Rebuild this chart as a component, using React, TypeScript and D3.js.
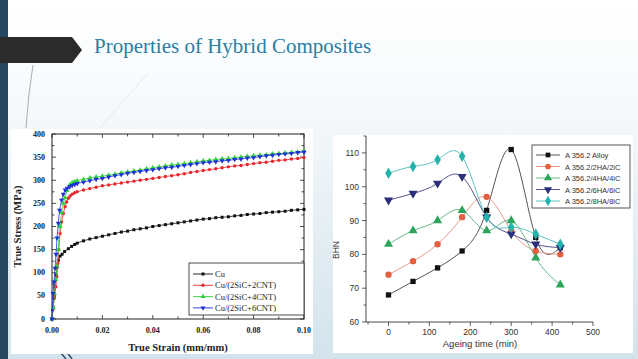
import React from 'react'
import {
    scaleLinear, line, curveLinear, curveNatural, symbol,
    symbolSquare, symbolCircle, symbolTriangle, symbolDiamond, range,
} from 'd3'

// left chart: true stress (MPa) vs true strain (mm/mm)
const cuData = [
    [0, 0], [0.0003, 20], [0.0008, 45], [0.0012, 70], [0.0016, 95], [0.002, 112], [0.0025, 127],
    [0.0032, 136], [0.004, 140], [0.005, 146], [0.0065, 152], [0.0078, 157], [0.009, 161], [0.01, 164],
    [0.0125, 169], [0.015, 173], [0.0175, 176], [0.02, 179], [0.0225, 182], [0.025, 185], [0.0275, 188],
    [0.03, 190], [0.0325, 193], [0.035, 195], [0.0375, 197], [0.04, 200], [0.0425, 202], [0.045, 204],
    [0.0475, 206], [0.05, 208], [0.0525, 210], [0.055, 212], [0.0575, 214], [0.06, 216], [0.0625, 217],
    [0.065, 219], [0.0675, 220], [0.07, 221], [0.0725, 223], [0.075, 224], [0.0775, 226], [0.08, 227],
    [0.0825, 228], [0.085, 230], [0.0875, 231], [0.09, 232], [0.0925, 233], [0.095, 235], [0.0975, 236],
    [0.1, 237],
]
const cnt2Data = [
    [0, 0], [0.0005, 27], [0.001, 50], [0.0015, 70], [0.0019, 91], [0.0023, 120], [0.0027, 150],
    [0.0032, 185], [0.0038, 210], [0.0045, 228], [0.0052, 243], [0.0058, 253], [0.0065, 261],
    [0.0072, 266], [0.008, 270], [0.009, 273], [0.01, 275], [0.0125, 279], [0.015, 282], [0.0175, 285],
    [0.02, 288], [0.0225, 290], [0.025, 292], [0.0275, 294], [0.03, 296], [0.0325, 298], [0.035, 300],
    [0.0375, 302], [0.04, 304], [0.0425, 306], [0.045, 308], [0.0475, 310], [0.05, 312], [0.0525, 314],
    [0.055, 317], [0.0575, 319], [0.06, 321], [0.0625, 323], [0.065, 325], [0.0675, 327], [0.07, 329],
    [0.0725, 331], [0.075, 332], [0.0775, 334], [0.08, 336], [0.0825, 338], [0.085, 339], [0.0875, 341],
    [0.09, 343], [0.0925, 344], [0.095, 346], [0.0975, 347], [0.1, 349],
]
const cnt4Data = [
    [0, 0], [0.0005, 25], [0.001, 55], [0.0015, 85], [0.002, 115], [0.0025, 150], [0.0032, 200],
    [0.0038, 230], [0.0045, 250], [0.0052, 262], [0.006, 278], [0.007, 290], [0.008, 295], [0.009, 297],
    [0.01, 299], [0.0125, 302], [0.015, 305], [0.0175, 307], [0.02, 309], [0.0225, 311], [0.025, 313],
    [0.0275, 316], [0.03, 318], [0.0325, 320], [0.035, 322], [0.0375, 325], [0.04, 327], [0.0425, 329],
    [0.045, 331], [0.0475, 333], [0.05, 334], [0.0525, 336], [0.055, 338], [0.0575, 340], [0.06, 342],
    [0.0625, 343], [0.065, 345], [0.0675, 346], [0.07, 347], [0.0725, 349], [0.075, 350], [0.0775, 352],
    [0.08, 353], [0.0825, 354], [0.085, 355], [0.0875, 357], [0.09, 358], [0.0925, 359], [0.095, 360],
    [0.0975, 361], [0.1, 363],
]
const cnt6Data = [
    [0, 0], [0.0004, 55], [0.0008, 80], [0.0012, 110], [0.0016, 140], [0.002, 175], [0.0025, 207],
    [0.003, 235], [0.0038, 257], [0.0045, 270], [0.0052, 279], [0.006, 283], [0.007, 286], [0.008, 289],
    [0.009, 291], [0.01, 293], [0.0125, 296], [0.015, 299], [0.0175, 302], [0.02, 304], [0.0225, 307],
    [0.025, 310], [0.0275, 312], [0.03, 315], [0.0325, 317], [0.035, 319], [0.0375, 321], [0.04, 323],
    [0.0425, 325], [0.045, 327], [0.0475, 328], [0.05, 330], [0.0525, 332], [0.055, 334], [0.0575, 336],
    [0.06, 338], [0.0625, 339], [0.065, 340], [0.0675, 342], [0.07, 343], [0.0725, 345], [0.075, 346],
    [0.0775, 348], [0.08, 349], [0.0825, 351], [0.085, 353], [0.0875, 354], [0.09, 356], [0.0925, 357],
    [0.095, 358], [0.0975, 360], [0.1, 361],
]
const strainTicks = [0, 0.02, 0.04, 0.06, 0.08, 0.1]
const stressTicks = [0, 50, 100, 150, 200, 250, 300, 350, 400]

// right chart: BHN vs ageing time
const ageingTimes = [0, 60, 120, 180, 240, 300, 360, 420]
const alloyBHN = [68, 72, 76, 81, 93, 111, 85, 82]
const ha2BHN = [74, 78, 83, 91, 97, 87, 81, 80]
const ha4BHN = [83, 87, 90, 93, 87, 90, 79, 71]
const ha6BHN = [96, 98, 101, 103, 91, 86, 83, 82]
const ha8BHN = [104, 106, 108, 109, 91, 88, 86, 83]
const timeTicks = [0, 100, 200, 300, 400, 500]
const bhnTicks = [60, 70, 80, 90, 100, 110]

const leftSeries = [
    { name: 'Cu', data: cuData, color: '#111111', shape: symbolSquare, size: 9, rot: 0 },
    { name: 'Cu/(2SiC+2CNT)', data: cnt2Data, color: '#e8262b', shape: symbolCircle, size: 9, rot: 0 },
    { name: 'Cu/(2SiC+4CNT)', data: cnt4Data, color: '#2fd13a', shape: symbolTriangle, size: 11, rot: 0 },
    { name: 'Cu/(2SiC+6CNT)', data: cnt6Data, color: '#1f2fd6', shape: symbolTriangle, size: 11, rot: 180 },
]

const rightSeries = [
    { name: 'A 356.2 Alloy', values: alloyBHN, color: '#111111', line: '#555555', shape: symbolSquare, size: 28, rot: 0 },
    { name: 'A 356.2/2HA/2iC', values: ha2BHN, color: '#e2603f', line: '#e89a88', shape: symbolCircle, size: 32, rot: 0 },
    { name: 'A 356.2/4HA/4iC', values: ha4BHN, color: '#2ca55a', line: '#66b987', shape: symbolTriangle, size: 36, rot: 0 },
    { name: 'A 356.2/6HA/6iC', values: ha6BHN, color: '#2b2f7c', line: '#55578f', shape: symbolTriangle, size: 36, rot: 180 },
    { name: 'A 356.2/8HA/8iC', values: ha8BHN, color: '#22b3ad', line: '#5ac4bf', shape: symbolDiamond, size: 38, rot: 0 },
]

const serif = '"Liberation Serif", "Times New Roman", serif'
const sans = '"Liberation Sans", Arial, sans-serif'

const App = () => {
    // left chart scales
    const lx = scaleLinear().domain([0, 0.1]).range([52, 304])
    const ly = scaleLinear().domain([0, 400]).range([319, 134])
    const lLine = line<number[]>().x(d => lx(d[0])).y(d => ly(d[1])).curve(curveLinear)

    // right chart scales
    const rx = scaleLinear().domain([-55, 500]).range([366, 593])
    const ry = scaleLinear().domain([60, 115]).range([322, 136])
    const rLine = line<number>().x((d, i) => rx(ageingTimes[i])).y(d => ry(d)).curve(curveNatural)

    const leftMinorX = range(0, 0.1001, 0.01)
    const leftMinorY = range(0, 401, 25)
    const rightMinorX = range(-50, 501, 50)
    const rightMinorY = range(60, 116, 5)

    return (
        <svg width={638} height={359} style={{ position: 'absolute', left: 0, top: 0 }}>
            <defs>
                <linearGradient id="bg" x1="0" y1="0" x2="0" y2="1">
                    <stop offset="0" stopColor="#ffffff" />
                    <stop offset="0.3" stopColor="#f6f9fb" />
                    <stop offset="1" stopColor="#d3e3ec" />
                </linearGradient>
            </defs>
            <rect x={0} y={0} width={638} height={359} fill="url(#bg)" />
            <rect x={0} y={0} width={8} height={359} fill="#26475f" />
            <path d="M0,37 L72,37 L82,50 L72,63 L0,63 Z" fill="#2b2b2b" />
            <path d="M33,65 Q28,95 26,128" fill="none" stroke="#8c9aa3" strokeWidth={0.8} />
            <path d="M148,73 L100,128" fill="none" stroke="#dfe6ea" strokeWidth={0.8} />
            <path d="M60,352 L66,359 M66,351 L72,359" fill="none" stroke="#2c4a63" strokeWidth={1.5} />
            <text x={94} y={53} fontFamily={serif} fontSize={21} fill="#2a7fa3">Properties of Hybrid Composites</text>

            {/* left chart */}
            <rect x={11} y={129} width={302} height={225} fill="#ffffff" />
            <rect x={lx(0)} y={ly(400)} width={lx(0.1) - lx(0)} height={ly(0) - ly(400)} fill="none" stroke="#222" strokeWidth={1} />
            {leftMinorX.map((t, i) => {
                const len = i % 2 === 0 ? 4 : 2.5
                return (
                    <g key={'lmx' + i} stroke="#222" strokeWidth={0.8}>
                        <line x1={lx(t)} x2={lx(t)} y1={ly(0)} y2={ly(0) - len} />
                        <line x1={lx(t)} x2={lx(t)} y1={ly(400)} y2={ly(400) + len} />
                    </g>
                )
            })}
            {leftMinorY.map((t, i) => {
                const len = i % 2 === 0 ? 4 : 2.5
                return (
                    <g key={'lmy' + i} stroke="#222" strokeWidth={0.8}>
                        <line x1={lx(0)} x2={lx(0) + len} y1={ly(t)} y2={ly(t)} />
                        <line x1={lx(0.1)} x2={lx(0.1) - len} y1={ly(t)} y2={ly(t)} />
                    </g>
                )
            })}
            {strainTicks.map(t => (
                <text key={'lxt' + t} x={lx(t)} y={333} textAnchor="middle" fontFamily={serif} fontWeight="bold" fontSize={8} fill="#222">
                    {t.toFixed(2)}
                </text>
            ))}
            {stressTicks.map(t => (
                <text key={'lyt' + t} x={45} y={ly(t) + 2.5} textAnchor="end" fontFamily={serif} fontWeight="bold" fontSize={8} fill="#222">
                    {t}
                </text>
            ))}
            <text x={178} y={351} textAnchor="middle" fontFamily={serif} fontWeight="bold" fontSize={10.5} fill="#222">True Strain (mm/mm)</text>
            <text transform={`translate(21,${(ly(0) + ly(400)) / 2}) rotate(-90)`} textAnchor="middle" fontFamily={serif} fontWeight="bold" fontSize={10.5} fill="#222">
                True Stress (MPa)
            </text>
            {leftSeries.map(s => (
                <g key={s.name}>
                    <path d={lLine(s.data) || ''} fill="none" stroke={s.color} strokeWidth={0.8} />
                    {s.data.map((d, i) => (
                        <path key={i} d={symbol(s.shape, s.size)() || ''} fill={s.color}
                            transform={`translate(${lx(d[0])},${ly(d[1])}) rotate(${s.rot})`} />
                    ))}
                </g>
            ))}
            <rect x={189} y={263} width={115} height={52} fill="#ffffff" stroke="#222" strokeWidth={0.8} />
            {leftSeries.map((s, i) => {
                const yy = 274 + i * 11.3
                return (
                    <g key={'ll' + s.name}>
                        <line x1={193} x2={213} y1={yy} y2={yy} stroke={s.color} strokeWidth={0.9} />
                        <path d={symbol(s.shape, s.size)() || ''} fill={s.color} transform={`translate(203,${yy}) rotate(${s.rot})`} />
                        <text x={215} y={yy + 3} fontFamily={serif} fontSize={8.5} fill="#222">{s.name}</text>
                    </g>
                )
            })}

            {/* right chart */}
            <rect x={333} y={135} width={300} height={218} fill="#ffffff" />
            <line x1={366} x2={366} y1={136} y2={322} stroke="#333" strokeWidth={0.9} />
            <line x1={366} x2={593} y1={322} y2={322} stroke="#333" strokeWidth={0.9} />
            {rightMinorX.map(t => (
                <line key={'rmx' + t} x1={rx(t)} x2={rx(t)} y1={322} y2={t % 100 === 0 ? 326 : 324.5} stroke="#333" strokeWidth={0.8} />
            ))}
            {rightMinorY.map(t => (
                <line key={'rmy' + t} x1={366} x2={t % 10 === 0 ? 362 : 363.5} y1={ry(t)} y2={ry(t)} stroke="#333" strokeWidth={0.8} />
            ))}
            {timeTicks.map(t => (
                <text key={'rxt' + t} x={rx(t)} y={335} textAnchor="middle" fontFamily={sans} fontSize={8.5} fill="#333">{t}</text>
            ))}
            {bhnTicks.map(t => (
                <text key={'ryt' + t} x={359} y={ry(t) + 3} textAnchor="end" fontFamily={sans} fontSize={8.5} fill="#333">{t}</text>
            ))}
            <text x={480} y={347} textAnchor="middle" fontFamily={sans} fontSize={9.5} fill="#333">Ageing time (min)</text>
            <text transform={`translate(339,250) rotate(-90)`} textAnchor="middle" fontFamily={sans} fontSize={8.5} fill="#333">BHN</text>
            {rightSeries.map(s => (
                <g key={s.name}>
                    <path d={rLine(s.values) || ''} fill="none" stroke={s.line} strokeWidth={1} />
                </g>
            ))}
            {rightSeries.map(s => (
                <g key={'m' + s.name}>
                    {s.values.map((v, i) => (
                        <path key={i} d={symbol(s.shape, s.size)() || ''} fill={s.color}
                            transform={`translate(${rx(ageingTimes[i])},${ry(v)}) rotate(${s.rot})`} />
                    ))}
                </g>
            ))}
            <rect x={532} y={145} width={98} height={63} fill="#ffffff" stroke="#444" strokeWidth={0.9} />
            {rightSeries.map((s, i) => {
                const yy = 155 + i * 11.5
                return (
                    <g key={'rl' + s.name}>
                        <line x1={536} x2={560} y1={yy} y2={yy} stroke={s.line} strokeWidth={1} />
                        <path d={symbol(s.shape, s.size * 0.8)() || ''} fill={s.color} transform={`translate(548,${yy}) rotate(${s.rot})`} />
                        <text x={565} y={yy + 3} fontFamily={sans} fontSize={7.5} fill="#333">{s.name}</text>
                    </g>
                )
            })}
        </svg>
    )
}

export default App
